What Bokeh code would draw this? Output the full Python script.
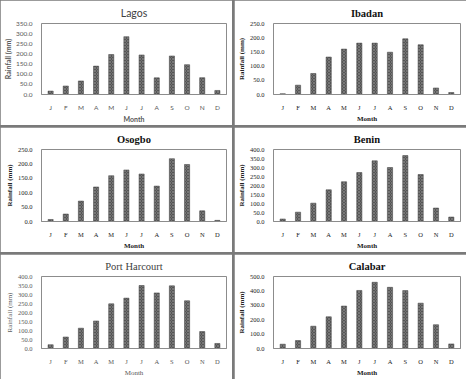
from bokeh.plotting import figure
from bokeh.models import GridBox, FixedTicker, Range1d, ColumnDataSource, NumeralTickFormatter
from bokeh.embed import file_html
from bokeh.resources import INLINE

months = ["J", "F", "M", "A", "M", "J", "J", "A", "S", "O", "N", "D"]
month_pos = list(range(1, 13))

lagos = [17, 42, 67, 140, 197, 285, 195, 82, 190, 147, 83, 20]
ibadan = [3, 33, 74, 132, 160, 181, 181, 149, 196, 175, 23, 7]
osogbo = [7, 26, 71, 120, 159, 179, 165, 123, 218, 198, 37, 4]
benin = [14, 52, 102, 176, 221, 272, 337, 300, 366, 261, 75, 25]
port_harcourt = [21, 64, 113, 153, 248, 280, 350, 309, 348, 265, 94, 28]
calabar = [30, 55, 155, 220, 295, 403, 460, 425, 402, 315, 165, 32]

panels = [
    ("Lagos", lagos, 350, 50, "sans"),
    ("Ibadan", ibadan, 250, 50, "serif"),
    ("Osogbo", osogbo, 250, 50, "serif"),
    ("Benin", benin, 400, 50, "serif"),
    ("Port Harcourt", port_harcourt, 400, 50, "serif_light"),
    ("Calabar", calabar, 500, 100, "serif"),
]

W, H = 232, 125


def make(title, vals, ymax, step, style):
    if style == "sans":
        font = "Lato"
        tcol, tstyle = "#404040", "normal"
        lcol = "#595959"
        lstyle = "bold"
    elif style == "serif":
        font = "Liberation Serif"
        tcol, tstyle = "#111111", "bold"
        lcol = "#222222"
        lstyle = "bold"
    else:
        font = "Liberation Serif"
        tcol, tstyle = "#404040", "normal"
        lcol = "#595959"
        lstyle = "normal"
    p = figure(width=W, height=H, output_backend="svg", toolbar_location=None,
               x_range=Range1d(0.4, 12.6), y_range=Range1d(0, ymax),
               min_border_left=38, min_border_right=6, min_border_top=4,
               min_border_bottom=3, background_fill_color="white",
               border_fill_color="white")
    p.title.text = title
    p.title.align = "center"
    p.title.text_font = font
    p.title.text_font_size = "10.5px"
    p.title.text_font_style = tstyle
    p.title.text_color = tcol
    p.title.standoff = 9
    src = ColumnDataSource(dict(x=month_pos, top=vals))
    p.vbar(x="x", top="top", width=0.34, source=src, fill_color="#555555",
           line_color="#484848", line_width=0.5, hatch_pattern="x",
           hatch_color="#8e8e8e", hatch_scale=3, hatch_weight=0.6)
    p.xgrid.visible = False
    p.ygrid.visible = False
    p.outline_line_color = "#8c8c8c"
    p.outline_line_width = 1
    p.xaxis.ticker = FixedTicker(ticks=month_pos)
    p.xaxis.major_label_overrides = {i + 1: m for i, m in enumerate(months)}
    p.yaxis.ticker = FixedTicker(ticks=list(range(0, ymax + 1, step)))
    p.yaxis.formatter = NumeralTickFormatter(format="0.0")
    for ax in (p.xaxis[0], p.yaxis[0]):
        ax.major_label_text_font = font
        ax.major_label_text_font_size = "6.5px"
        ax.major_label_text_color = lcol
        ax.axis_label_text_font = font
        ax.axis_label_text_font_size = "7px"
        ax.axis_label_text_color = lcol
        ax.axis_label_text_font_style = lstyle
        ax.major_tick_line_color = None
        ax.minor_tick_line_color = None
        ax.axis_label_standoff = 1
    p.xaxis.axis_line_color = "#8c8c8c"
    p.yaxis.axis_line_color = None
    p.xaxis.major_label_standoff = 3
    p.yaxis.major_label_standoff = 3
    p.xaxis.axis_label = "Month"
    p.yaxis.axis_label = "Rainfall (mm)"
    return p


figs = [make(*pn) for pn in panels]
children = [(f, i // 2, i % 2) for i, f in enumerate(figs)]
grid = GridBox(children=children, spacing=2,
               styles={"background-color": "#7a7a7a"})

open("out.html", "w").write(file_html(grid, INLINE))
